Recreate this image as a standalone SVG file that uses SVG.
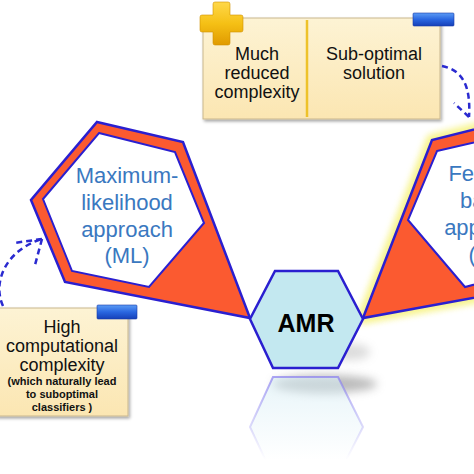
<svg xmlns="http://www.w3.org/2000/svg" width="474" height="474" viewBox="0 0 474 474">
<defs>
  <style>
    text { font-family: "Liberation Sans", Arial, sans-serif; }
    .blk { fill: #111; font-size: 18px; text-anchor: middle; }
    .sm { fill: #111; font-size: 11px; font-weight: bold; text-anchor: middle; }
    .blu { fill: #3a78c0; font-size: 22px; text-anchor: middle; }
    .amr { fill: #000; font-size: 25px; font-weight: bold; text-anchor: middle; }
    .outer { fill: #fb5a30; stroke: #2a1fd0; stroke-width: 2.5; stroke-linejoin: miter; }
    .inner { fill: #ffffff; stroke: #2a1fd0; stroke-width: 2; stroke-linejoin: miter; }
    .box { fill: url(#boxg); stroke: #c9b78e; stroke-width: 1; filter: url(#shadow); }
    .dash { fill: none; stroke: #2a2ad0; stroke-width: 2.5; stroke-dasharray: 6 4; }
    .minus { fill: url(#minusg); stroke: #1a3aa8; stroke-width: 0.6; }
  </style>
  <linearGradient id="boxg" x1="0" y1="0" x2="0" y2="1">
    <stop offset="0" stop-color="#fdf3d4"/>
    <stop offset="1" stop-color="#fbe6b2"/>
  </linearGradient>
  <linearGradient id="plusg" x1="0" y1="0" x2="0" y2="1">
    <stop offset="0" stop-color="#ffd84a"/>
    <stop offset="0.5" stop-color="#f5c015"/>
    <stop offset="1" stop-color="#e09a00"/>
  </linearGradient>
  <linearGradient id="minusg" x1="0" y1="0" x2="0" y2="1">
    <stop offset="0" stop-color="#5c9cf5"/>
    <stop offset="0.5" stop-color="#2a66e0"/>
    <stop offset="1" stop-color="#1640b8"/>
  </linearGradient>
  <linearGradient id="reflStroke" gradientUnits="userSpaceOnUse" x1="0" y1="377" x2="0" y2="460">
    <stop offset="0" stop-color="#8a7ff0" stop-opacity="0.7"/>
    <stop offset="1" stop-color="#8a7ff0" stop-opacity="0"/>
  </linearGradient>
  <linearGradient id="reflFill" gradientUnits="userSpaceOnUse" x1="0" y1="377" x2="0" y2="460">
    <stop offset="0" stop-color="#d8eef5" stop-opacity="0.6"/>
    <stop offset="1" stop-color="#d8eef5" stop-opacity="0"/>
  </linearGradient>
  <filter id="shadow" x="-10%" y="-10%" width="130%" height="130%">
    <feDropShadow dx="1.5" dy="2" stdDeviation="1.5" flood-color="#000" flood-opacity="0.35"/>
  </filter>
  <filter id="glow" x="-20%" y="-20%" width="140%" height="140%">
    <feGaussianBlur stdDeviation="3"/>
  </filter>
  <filter id="soft" x="-30%" y="-100%" width="160%" height="300%">
    <feGaussianBlur stdDeviation="5"/>
  </filter>
</defs>

<rect width="474" height="474" fill="#ffffff"/>

<!-- AMR reflection and shadow -->
<g id="amr-reflection">
  <ellipse cx="325" cy="384" rx="52" ry="9" fill="#777" opacity="0.5" filter="url(#soft)"/>
  <ellipse cx="350" cy="352" rx="20" ry="8" fill="#999" opacity="0.35" filter="url(#soft)"/>
  <polygon points="273,377 338,377 363,427 338,476 273,476 250,427" fill="url(#reflFill)" stroke="url(#reflStroke)" stroke-width="2"/>
</g>

<!-- Left node: Maximum-likelihood -->
<g id="node-ml">
  <polygon class="outer" points="97,122 183,142 250,318 65,282 31,200"/>
  <polygon class="inner" points="99,133 175,152 204,223 149,287 72,271 43,199"/>
  <text class="blu" x="127" y="183">Maximum-</text>
  <text class="blu" x="127" y="210">likelihood</text>
  <text class="blu" x="127" y="237">approach</text>
  <text class="blu" x="127" y="263">(ML)</text>
</g>

<!-- Right node: Feature-based -->
<g id="node-fb">
  <polygon points="363,318 432,140 520,118 600,200 560,282" fill="none" stroke="#f6f27a" stroke-width="12" stroke-linejoin="round" opacity="0.85" filter="url(#glow)"/>
  <polygon class="outer" points="363,318 432,140 520,118 600,200 560,282"/>
  <polygon class="inner" points="437,151 520,132 560,200 530,270 465,287 408,220"/>
  <text class="blu" x="490" y="181">Feature-</text>
  <text class="blu" x="490" y="208">based</text>
  <text class="blu" x="490" y="235">approach</text>
  <text class="blu" x="490" y="262">(FB)</text>
</g>

<!-- Center node: AMR -->
<g id="node-amr">
  <polygon points="275,271 338,271 363,319 338,368 273,368 250,319" fill="#c3e8f0" stroke="#2a1fd0" stroke-width="2.5"/>
  <text class="amr" x="306" y="332">AMR</text>
</g>

<!-- Top box: pros/cons of FB -->
<g id="box-fb">
  <rect class="box" x="203" y="18" width="237" height="101"/>
  <line x1="307" y1="20" x2="307" y2="117" stroke="#eec22a" stroke-width="2.5"/>
  <path d="M215,2 h13 a2,2 0 0 1 2,2 v11 h11 a2,2 0 0 1 2,2 v13 a2,2 0 0 1 -2,2 h-11 v11 a2,2 0 0 1 -2,2 h-13 a2,2 0 0 1 -2,-2 v-11 h-11 a2,2 0 0 1 -2,-2 v-13 a2,2 0 0 1 2,-2 h11 v-11 a2,2 0 0 1 2,-2 z" fill="url(#plusg)" stroke="#d09000" stroke-width="0.6"/>
  <rect class="minus" x="413" y="13" width="41" height="13" rx="1"/>
  <text class="blk" x="257" y="60">Much</text>
  <text class="blk" x="257" y="79">reduced</text>
  <text class="blk" x="257" y="98">complexity</text>
  <text class="blk" x="374" y="60">Sub-optimal</text>
  <text class="blk" x="374" y="79">solution</text>
</g>

<!-- Bottom-left box: cons of ML -->
<g id="box-ml">
  <rect class="box" x="-4" y="308" width="132" height="108"/>
  <rect class="minus" x="97" y="305" width="40" height="14" rx="1"/>
  <text class="blk" x="62" y="333">High</text>
  <text class="blk" x="62" y="352">computational</text>
  <text class="blk" x="62" y="371">complexity</text>
  <text class="sm" x="62" y="385">(which naturally lead</text>
  <text class="sm" x="62" y="398">to suboptimal</text>
  <text class="sm" x="62" y="411">classifiers )</text>
</g>

<!-- Connectors -->
<g id="connectors">
  <path class="dash" d="M3,306 C-8,282 6,250 42,239"/>
  <path class="dash" d="M42,239 L14,243"/>
  <path class="dash" d="M42,239 L35,265"/>
  <path class="dash" d="M442,66 C462,70 471,85 469,117"/>
  <path class="dash" d="M469,117 L454,103"/>
</g>
</svg>
